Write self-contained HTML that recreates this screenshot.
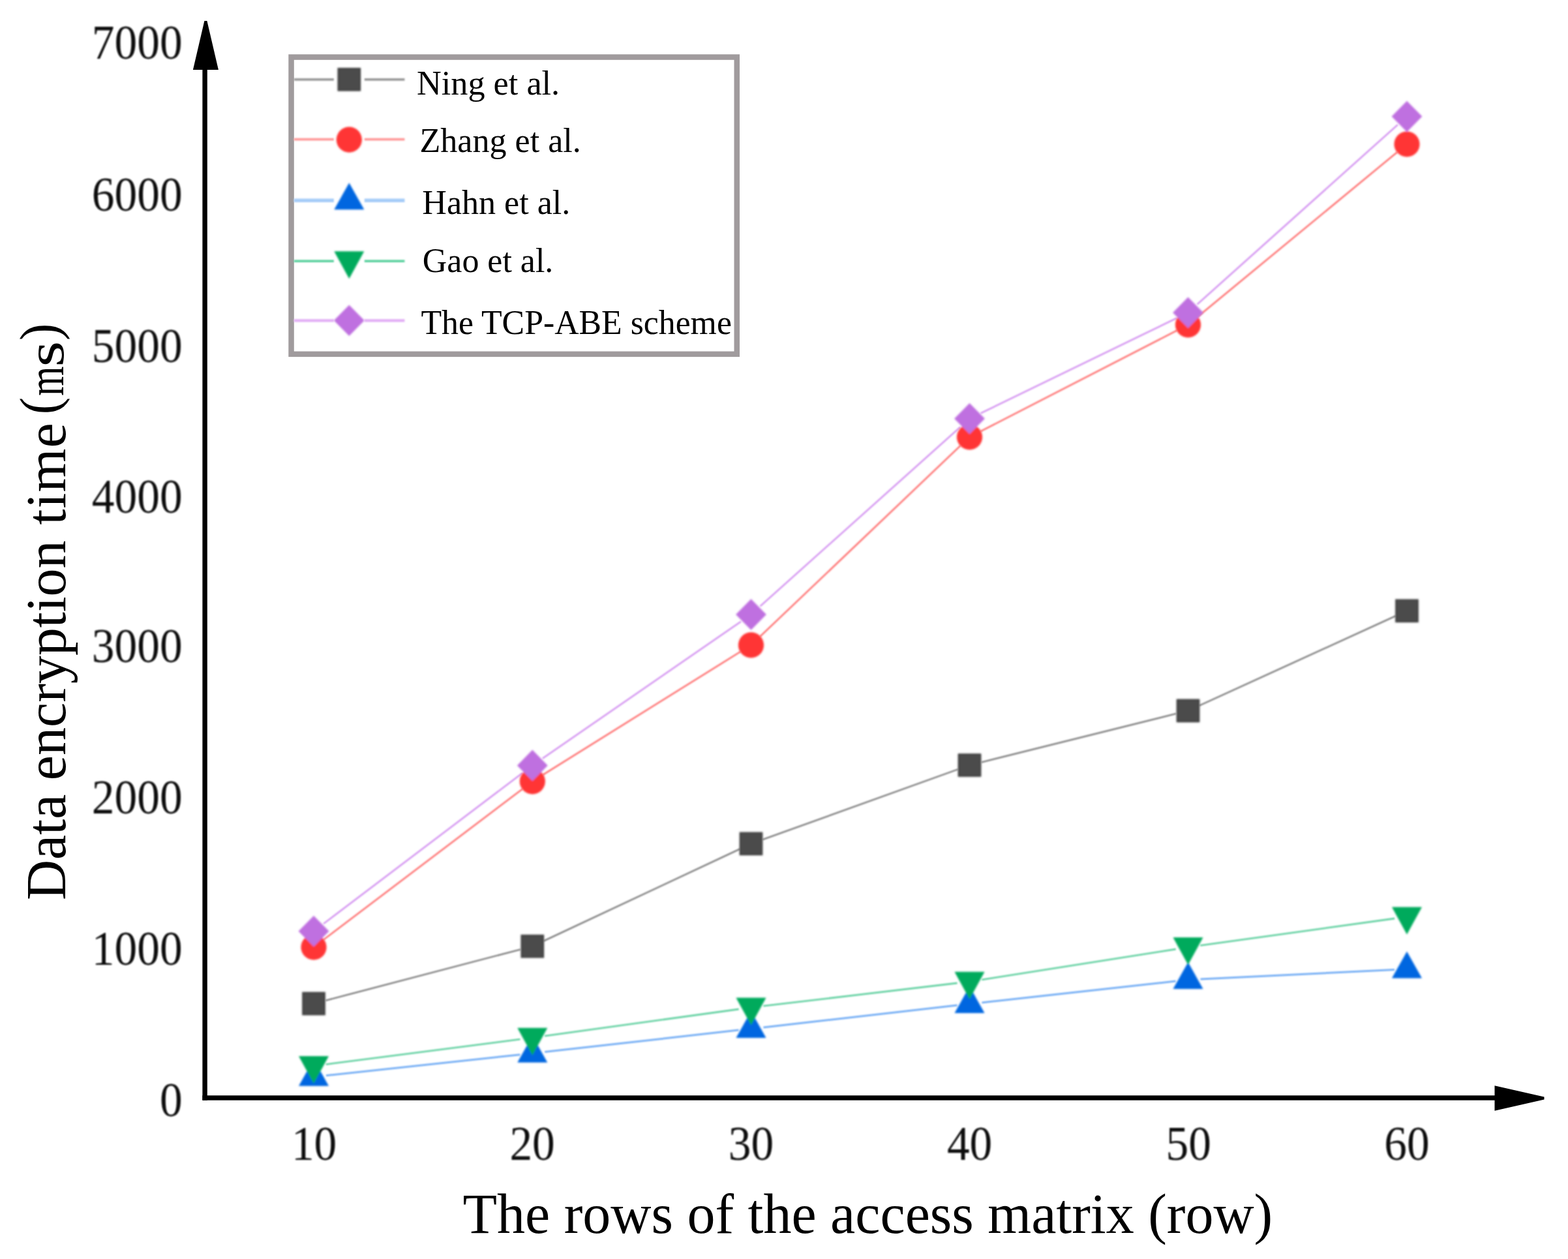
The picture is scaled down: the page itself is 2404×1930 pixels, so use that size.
<!DOCTYPE html>
<html lang="en"><head><meta charset="utf-8"><title>Data encryption time</title>
<style>
html,body{margin:0;padding:0;background:#fff;}
body{width:2404px;height:1930px;overflow:hidden;}
svg{display:block;}
text{font-family:"Liberation Serif",serif;fill:#000;}
.tick{fill:#0c0c0c;}
</style></head><body>
<svg width="2404" height="1930" viewBox="0 0 2404 1930">
<rect width="2404" height="1930" fill="#ffffff"/>
<defs><filter id="softLines" filterUnits="userSpaceOnUse" x="0" y="0" width="2404" height="1930"><feGaussianBlur stdDeviation="0.8"/></filter><filter id="softMarks" filterUnits="userSpaceOnUse" x="0" y="0" width="2404" height="1930"><feGaussianBlur stdDeviation="1.5"/></filter><filter id="softTicks" filterUnits="userSpaceOnUse" x="0" y="0" width="2404" height="1930"><feGaussianBlur stdDeviation="0.8"/></filter></defs>
<g>
<g id="series-lines" filter="url(#softLines)">
<path d="M499.4 1533.7L797.9 1455.4M833.5 1442.5L1134.3 1301.5M1169.4 1287.0L1468.6 1179.4M1504.9 1168.4L1803.1 1094.1M1838.8 1081.6L2139.7 944.3" fill="none" stroke="#868686" stroke-width="2.6"/>
<path d="M496.1 1440.5L801.2 1209.3M832.4 1187.8L1135.4 998.9M1165.3 975.8L1472.7 683.1M1503.4 661.3L1804.6 506.5M1836.2 485.7L2142.3 233.1" fill="none" stroke="#ff8080" stroke-width="2.8"/>
<path d="M499.9 1648.7L797.4 1616.7M835.2 1612.6L1132.6 1579.1M1170.4 1574.9L1467.6 1541.1M1505.4 1536.9L1802.6 1504.1M1840.5 1501.1L2138.0 1486.5" fill="none" stroke="#78b0f5" stroke-width="3.0"/>
<path d="M499.8 1631.6L797.5 1593.1M835.1 1588.1L1132.7 1547.0M1170.4 1542.2L1467.6 1507.0M1505.3 1501.8L1802.7 1455.0M1840.3 1449.4L2138.2 1408.0" fill="none" stroke="#6ad3a6" stroke-width="2.8"/>
<path d="M496.1 1416.0L801.2 1184.9M831.9 1162.6L1135.9 952.8M1165.6 929.3L1472.4 654.5M1503.6 633.5L1804.4 487.5M1835.6 466.5L2142.9 191.2" fill="none" stroke="#d79cf2" stroke-width="2.7"/>
</g>
<g id="series" filter="url(#softMarks)">
<rect x="464.2" y="1521.7" width="33.6" height="33.6" fill="#4b4b4b" stroke="#3a3a3a" stroke-width="2"/>
<rect x="799.5" y="1433.8" width="33.6" height="33.6" fill="#4b4b4b" stroke="#3a3a3a" stroke-width="2"/>
<rect x="1134.7" y="1276.6" width="33.6" height="33.6" fill="#4b4b4b" stroke="#3a3a3a" stroke-width="2"/>
<rect x="1469.7" y="1156.2" width="33.6" height="33.6" fill="#4b4b4b" stroke="#3a3a3a" stroke-width="2"/>
<rect x="1804.7" y="1072.7" width="33.6" height="33.6" fill="#4b4b4b" stroke="#3a3a3a" stroke-width="2"/>
<rect x="2140.2" y="919.6" width="33.6" height="33.6" fill="#4b4b4b" stroke="#3a3a3a" stroke-width="2"/>
<circle cx="481.0" cy="1452.0" r="19.6" fill="#ff3535"/>
<circle cx="816.3" cy="1197.8" r="19.6" fill="#ff3535"/>
<circle cx="1151.5" cy="988.9" r="19.6" fill="#ff3535"/>
<circle cx="1486.5" cy="670.0" r="19.6" fill="#ff3535"/>
<circle cx="1821.5" cy="497.8" r="19.6" fill="#ff3535"/>
<circle cx="2157.0" cy="221.0" r="19.6" fill="#ff3535"/>
<polygon points="481.0,1623.7 504.0,1664.7 458.0,1664.7" fill="#0066e0"/>
<polygon points="816.3,1587.7 839.3,1628.7 793.3,1628.7" fill="#0066e0"/>
<polygon points="1151.5,1550.0 1174.5,1591.0 1128.5,1591.0" fill="#0066e0"/>
<polygon points="1486.5,1512.0 1509.5,1553.0 1463.5,1553.0" fill="#0066e0"/>
<polygon points="1821.5,1475.0 1844.5,1516.0 1798.5,1516.0" fill="#0066e0"/>
<polygon points="2157.0,1458.6 2180.0,1499.6 2134.0,1499.6" fill="#0066e0"/>
<polygon points="458.0,1619.0 504.0,1619.0 481.0,1661.0" fill="#00aa5c"/>
<polygon points="793.3,1575.7 839.3,1575.7 816.3,1617.7" fill="#00aa5c"/>
<polygon points="1128.5,1529.4 1174.5,1529.4 1151.5,1571.4" fill="#00aa5c"/>
<polygon points="1463.5,1489.8 1509.5,1489.8 1486.5,1531.8" fill="#00aa5c"/>
<polygon points="1798.5,1437.0 1844.5,1437.0 1821.5,1479.0" fill="#00aa5c"/>
<polygon points="2134.0,1390.4 2180.0,1390.4 2157.0,1432.4" fill="#00aa5c"/>
<polygon points="481.0,1403.7 504.4,1427.5 481.0,1451.3 457.6,1427.5" fill="#bf6fe0"/>
<polygon points="816.3,1149.6 839.7,1173.4 816.3,1197.2 792.9,1173.4" fill="#bf6fe0"/>
<polygon points="1151.5,918.2 1174.9,942.0 1151.5,965.8 1128.1,942.0" fill="#bf6fe0"/>
<polygon points="1486.5,618.0 1509.9,641.8 1486.5,665.6 1463.1,641.8" fill="#bf6fe0"/>
<polygon points="1821.5,455.4 1844.9,479.2 1821.5,503.0 1798.1,479.2" fill="#bf6fe0"/>
<polygon points="2157.0,154.7 2180.4,178.5 2157.0,202.3 2133.6,178.5" fill="#bf6fe0"/>
</g>
<g id="axes" fill="#000" stroke="none">
<rect x="310.40" y="106.0" width="7.4" height="1580.70"/>
<rect x="310.40" y="1679.30" width="1982.10" height="7.4"/>
<polygon points="313.4,32.0 317.4,32.0 334.9,107.0 295.9,107.0"/>
<polygon points="2367.5,1681.5 2367.5,1685.5 2291.5,1702.7 2291.5,1664.3"/>
</g>
<g id="ticks" class="tick" filter="url(#softTicks)">
<text class="tick" transform="translate(140.86,90.20) scale(0.94,1)" font-size="73.8">7000</text>
<text class="tick" transform="translate(140.86,323.20) scale(0.94,1)" font-size="73.8">6000</text>
<text class="tick" transform="translate(140.86,554.60) scale(0.94,1)" font-size="73.8">5000</text>
<text class="tick" transform="translate(140.86,786.30) scale(0.94,1)" font-size="73.8">4000</text>
<text class="tick" transform="translate(140.86,1015.20) scale(0.94,1)" font-size="73.8">3000</text>
<text class="tick" transform="translate(140.86,1246.60) scale(0.94,1)" font-size="73.8">2000</text>
<text class="tick" transform="translate(140.86,1478.90) scale(0.94,1)" font-size="73.8">1000</text>
<text class="tick" transform="translate(244.91,1710.60) scale(0.94,1)" font-size="73.8">0</text>
<text class="tick" transform="translate(446.91,1778.30) scale(0.94,1)" font-size="73.8">10</text>
<text class="tick" transform="translate(781.41,1778.30) scale(0.94,1)" font-size="73.8">20</text>
<text class="tick" transform="translate(1116.71,1778.30) scale(0.94,1)" font-size="73.8">30</text>
<text class="tick" transform="translate(1451.91,1778.30) scale(0.94,1)" font-size="73.8">40</text>
<text class="tick" transform="translate(1787.51,1778.30) scale(0.94,1)" font-size="73.8">50</text>
<text class="tick" transform="translate(2122.31,1778.30) scale(0.94,1)" font-size="73.8">60</text>
</g>
<text id="xlabel" transform="translate(709.5,1890.3) scale(1.0,1)" font-size="86">The rows of the access matrix (row)</text>
<g id="ylabel" transform="translate(100.3,1380.0) rotate(-90)">
<text font-size="86" style="white-space:pre"><tspan x="0" y="0">Data encryption</tspan><tspan dx="0 2.5 1.1 1.1 1.1"> time</tspan><tspan> </tspan><tspan x="744.7" y="-11.6" font-size="84.6" textLength="26.2" lengthAdjust="spacingAndGlyphs">(</tspan><tspan x="773.3" y="-3.3" font-size="79.4" textLength="45.1" lengthAdjust="spacingAndGlyphs">m</tspan><tspan x="817.4" y="-3.3" font-size="79.4" textLength="39.8" lengthAdjust="spacingAndGlyphs">s</tspan><tspan x="857.9" y="-11.6" font-size="84.6" textLength="26.2" lengthAdjust="spacingAndGlyphs">)</tspan></text>
</g>
<g id="legend">
<rect x="446.55" y="87.55" width="683.20" height="455.30" fill="#fff" stroke="#a09b9d" stroke-width="8.5"/>
<g id="legend-lines" filter="url(#softLines)">
<path d="M450.6 121.8H511.8M558.8 121.8H620.4" fill="none" stroke="#9a9a9a" stroke-width="3.8"/>
<path d="M450.6 213.7H511.8M558.8 213.7H620.4" fill="none" stroke="#ff9a9a" stroke-width="3.8"/>
<path d="M450.6 307.3H511.8M558.8 307.3H620.4" fill="none" stroke="#a6ccf8" stroke-width="5.6"/>
<path d="M450.6 400.2H511.8M558.8 400.2H620.4" fill="none" stroke="#55cf9b" stroke-width="3.4"/>
<path d="M450.6 491.3H511.8M558.8 491.3H620.4" fill="none" stroke="#e2aef5" stroke-width="4.2"/>
</g>
<g id="legend-marks" filter="url(#softMarks)">
<rect x="518.5" y="105.0" width="33.6" height="33.6" fill="#4b4b4b" stroke="#3a3a3a" stroke-width="2"/>
<circle cx="535.3" cy="214.2" r="19.6" fill="#ff3535"/>
<polygon points="535.3,280.3 558.3,321.3 512.3,321.3" fill="#0066e0"/>
<polygon points="512.3,385.2 558.3,385.2 535.3,427.2" fill="#00aa5c"/>
<polygon points="535.3,467.5 558.7,491.3 535.3,515.1 511.9,491.3" fill="#bf6fe0"/>
</g>
<text transform="translate(639.0,145.1) scale(0.996,1)" font-size="52.5">Ning et al.</text>
<text transform="translate(643.5,232.9) scale(0.992,1)" font-size="52.5">Zhang et al.</text>
<text transform="translate(647.3,327.5) scale(0.992,1)" font-size="52.5">Hahn et al.</text>
<text transform="translate(647.8,416.7) scale(0.99,1)" font-size="52.5">Gao et al.</text>
<text transform="translate(645.5,511.79999999999995) scale(0.9864,1)" font-size="52.5">The TCP-ABE scheme</text>
</g>
</g>
</svg>
</body></html>
